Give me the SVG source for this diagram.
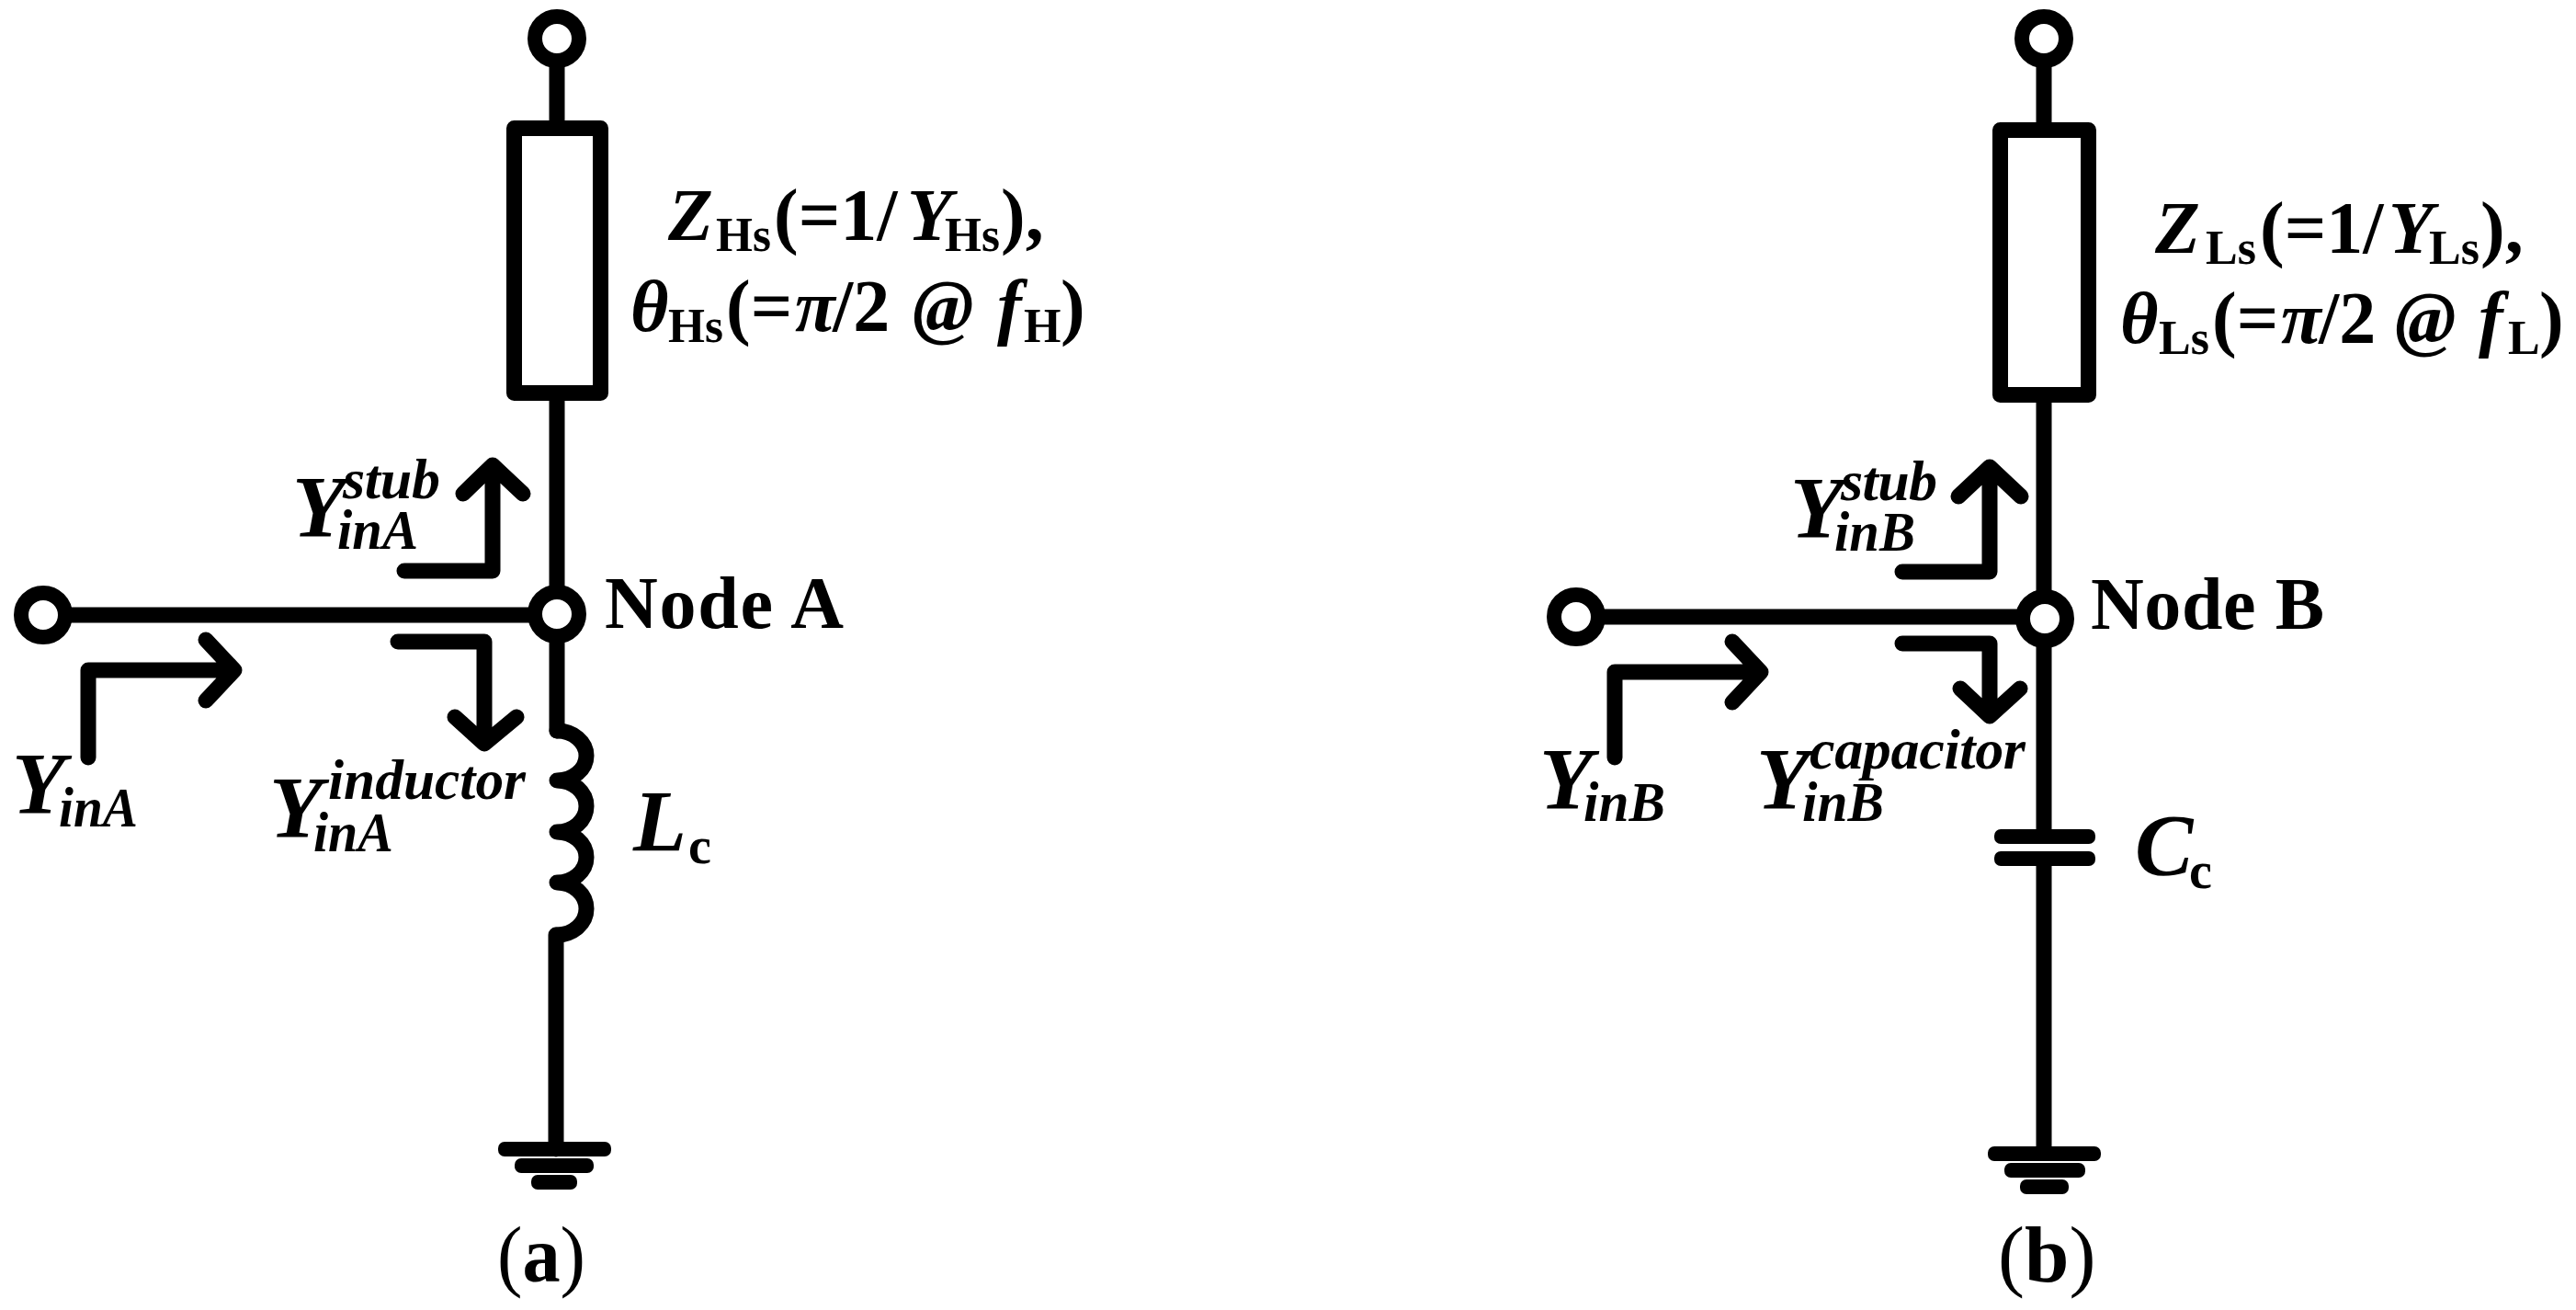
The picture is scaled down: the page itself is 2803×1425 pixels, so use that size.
<svg xmlns="http://www.w3.org/2000/svg" width="2803" height="1425" viewBox="0 0 2803 1425">
<style>
text{font-family:"Liberation Serif","Times New Roman",serif;font-weight:bold;fill:#000}
.big{font-size:80px}
.sym{font-size:95px;font-style:italic}
.sm{font-size:62px;font-style:italic}
.sub{font-size:52px}
.c{font-size:56px}
.cap{font-size:87px;font-weight:normal}
.it{font-style:italic}
.w{fill:none;stroke:#000;stroke-width:17;stroke-linejoin:round;stroke-linecap:round}
.t{fill:#fff;stroke:#000;stroke-width:16}
.box{fill:#fff;stroke:#000;stroke-width:17;stroke-linejoin:round}
</style>
<rect width="2803" height="1425" fill="#fff"/>
<g id="connectors">
<path class="w" d="M606 42V139M606 436V795M47 669H606M605 1017V1250"/>
<path class="w" d="M2224 42V141M2224 438V905M1715 671H2224M2224 940V1250"/>
</g>
<g id="panel-a">
<g id="stub-a"><rect class="box" x="559.500" y="139.500" width="94" height="288"/></g>
<g id="terminal-a-top"><circle class="t" cx="606" cy="42" r="24"/></g>
<g id="terminal-a-left"><circle class="t" cx="47" cy="669" r="24"/></g>
<g id="node-a"><circle class="t" cx="606" cy="668" r="24"/><text class="big" x="658" y="683" textLength="260">Node A</text></g>
<g id="inductor"><path class="w" d="M606 795A32 27 0 0 1 606 849A32 28 0 0 1 606 905A32 27.500 0 0 1 606 960A32 28.500 0 0 1 606 1017"/></g>
<g id="ground-a"><rect x="542" y="1242" width="123" height="16" rx="7"/><rect x="560" y="1260" width="86" height="16" rx="7"/><rect x="578" y="1278" width="50" height="16" rx="7"/></g>
<g id="arrow-a-stub"><path class="w" d="M440 621H536V506M504 537L536 506L569 537"/></g>
<g id="arrow-a-in"><path class="w" d="M96 824V729H255M224 696L255 729L224 762"/></g>
<g id="arrow-a-ind"><path class="w" d="M433 698H527V809M495 780L527 809L562 780"/></g>
<g id="label-z-a">
<text class="big it" x="727" y="261">Z</text><text class="sub" x="779" y="273" textLength="60" lengthAdjust="spacingAndGlyphs">Hs</text><text class="big" x="842" y="261">(=1/</text><text class="big it" x="987" y="261">Y</text><text class="sub" x="1028" y="273" textLength="60" lengthAdjust="spacingAndGlyphs">Hs</text><text class="big" x="1089" y="261">),</text>
<text class="big it" x="686" y="360">θ</text><text class="sub" x="727" y="372" textLength="60" lengthAdjust="spacingAndGlyphs">Hs</text><text class="big" x="790" y="360">(=</text><text class="big it" x="865" y="360">π</text><text class="big" x="906" y="360">/2</text><text class="big it" x="993" y="360">@</text><text class="big it" x="1085" y="360">f</text><text class="sub" x="1114" y="372">H</text><text class="big" x="1154" y="360">)</text>
</g>
<g id="label-stub-a"><text class="sym" x="318" y="584">Y</text><text class="sm" x="373" y="542" textLength="106">stub</text><text class="sm" x="367" y="597" textLength="88" lengthAdjust="spacingAndGlyphs">inA</text></g>
<g id="label-in-a"><text class="sym" x="13" y="885">Y</text><text class="sm" x="64" y="899" textLength="86" lengthAdjust="spacingAndGlyphs">inA</text></g>
<g id="label-ind-a"><text class="sym" x="293" y="911">Y</text><text class="sm" x="357" y="869" textLength="215" lengthAdjust="spacingAndGlyphs">inductor</text><text class="sm" x="341" y="926" textLength="87" lengthAdjust="spacingAndGlyphs">inA</text></g>
<g id="label-lc"><text class="sym" x="689" y="926">L</text><text class="c" x="749" y="939">c</text></g>
<text id="caption-a" class="cap" x="541" y="1394" textLength="96" lengthAdjust="spacingAndGlyphs">(<tspan font-weight="bold">a</tspan>)</text>
</g>
<g id="panel-b">
<g id="stub-b"><rect class="box" x="2176.500" y="141.500" width="96" height="288"/></g>
<g id="terminal-b-top"><circle class="t" cx="2224" cy="42" r="24"/></g>
<g id="terminal-b-left"><circle class="t" cx="1715" cy="671" r="24"/></g>
<g id="node-b"><circle class="t" cx="2225" cy="673" r="24"/><text class="big" x="2275" y="684" textLength="254">Node B</text></g>
<g id="capacitor"><rect x="2170" y="902" width="110" height="16" rx="7"/><rect x="2170" y="926" width="110" height="16" rx="7"/></g>
<g id="ground-b"><rect x="2163" y="1247" width="123" height="16" rx="7"/><rect x="2181" y="1265" width="88" height="16" rx="7"/><rect x="2198" y="1283" width="53" height="16" rx="7"/></g>
<g id="arrow-b-stub"><path class="w" d="M2070 622H2165V508M2131 540L2165 508L2199 540"/></g>
<g id="arrow-b-in"><path class="w" d="M1757 824V731H1916M1885 698L1916 731L1885 764"/></g>
<g id="arrow-b-cap"><path class="w" d="M2070 700H2165V779M2133 749L2165 779L2198 749"/></g>
<g id="label-z-b">
<text class="big it" x="2345" y="275">Z</text><text class="sub" x="2400" y="287">Ls</text><text class="big" x="2459" y="275">(=1/</text><text class="big it" x="2599" y="275">Y</text><text class="sub" x="2643" y="287">Ls</text><text class="big" x="2699" y="275">),</text>
<text class="big it" x="2307" y="373">θ</text><text class="sub" x="2349" y="385">Ls</text><text class="big" x="2407" y="373">(=</text><text class="big it" x="2482" y="373">π</text><text class="big" x="2523" y="373">/2</text><text class="big it" x="2606" y="373">@</text><text class="big it" x="2697" y="373">f</text><text class="sub" x="2729" y="385">L</text><text class="big" x="2763" y="373">)</text>
</g>
<g id="label-stub-b"><text class="sym" x="1948" y="585">Y</text><text class="sm" x="2003" y="544" textLength="105">stub</text><text class="sm" x="1996" y="599" textLength="88" lengthAdjust="spacingAndGlyphs">inB</text></g>
<g id="label-in-b"><text class="sym" x="1675" y="880">Y</text><text class="sm" x="1723" y="893" textLength="89" lengthAdjust="spacingAndGlyphs">inB</text></g>
<g id="label-cap-b"><text class="sym" x="1911" y="880">Y</text><text class="sm" x="1969" y="836" textLength="235">capacitor</text><text class="sm" x="1961" y="893" textLength="89" lengthAdjust="spacingAndGlyphs">inB</text></g>
<g id="label-cc"><text class="sym" x="2323" y="952">C</text><text class="c" x="2382" y="966">c</text></g>
<text id="caption-b" class="cap" x="2174" y="1394">(<tspan font-weight="bold">b</tspan>)</text>
</g>
</svg>
